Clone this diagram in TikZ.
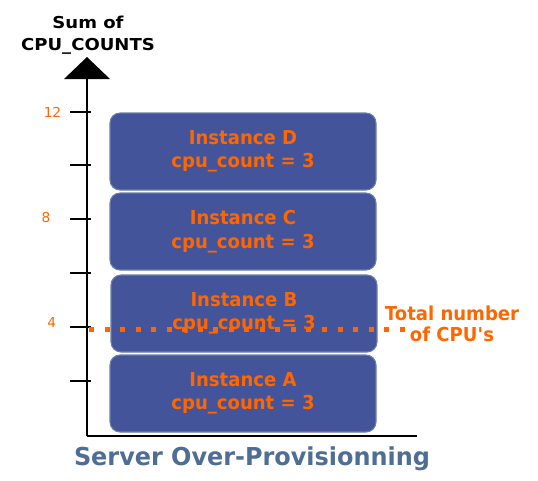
\documentclass[tikz,border=0pt]{standalone}
\usepackage{fontspec}
\setmainfont{DejaVu Sans}
\newfontfamily\narrowfont[FakeStretch=0.94]{DejaVu Sans}
\newfontfamily\titlefont[FakeStretch=0.97]{DejaVu Sans}
\newfontfamily\widefont[FakeStretch=1.1]{DejaVu Sans}
\definecolor{boxfill}{HTML}{44549A}
\definecolor{boxline}{HTML}{6A80A8}
\definecolor{orng}{HTML}{FF6600}
\definecolor{ttl}{HTML}{4F6E96}
\begin{document}
\begin{tikzpicture}[x=0.75pt,y=-0.75pt,
  inst/.style={draw=boxline,line width=0.8pt,fill=boxfill,rounded corners=7.5pt,
    minimum width=199.5pt,minimum height=57.75pt,inner sep=0pt,align=center,
    text=orng,font=\narrowfont\fontsize{14.4}{17.5}\selectfont\bfseries},
  ticklab/.style={text=orng,font=\fontsize{10.3}{12}\selectfont,anchor=center},
  axisline/.style={line width=1.5pt,black}]
\useasboundingbox (0,0) rectangle (538,480);
% boxes
\node[inst] (d) at (243,151.5) {Instance D\\cpu\_count = 3};
\node[inst] (c) at (243,231.5) {Instance C\\cpu\_count = 3};
\node[inst] (b) at (244,313.5) {Instance B\\cpu\_count = 3};
\node[inst] (a) at (243,393.5) {Instance A\\cpu\_count = 3};
% axes
\coordinate (o) at (87,436);
\coordinate (top) at (87,78);
\coordinate (xend) at (417,436);
\draw[axisline] (o) -- (top);
\draw[axisline] (o) -- (xend);
\fill[black] (64,79) -- (87,57) -- (110,79) -- cycle;
% ticks
\foreach \y in {112,165,219,273,327,381}
  \draw[line width=1.5pt] (70,\y) -- (91,\y);
\node[ticklab] (l12) at (52.5,112) {12};
\node[ticklab] (l8) at (46,217) {8};
\node[ticklab] (l4) at (51.7,322) {4};
% axis title
\node[align=center,font=\widefont\fontsize{12.3}{16.8}\selectfont\bfseries] (ytitle) at (88,35.2) {Sum of\\CPU\_COUNTS};
% dotted line
\coordinate (dl) at (89,329);
\coordinate (dr) at (408,329);
\draw[orng,line width=3.75pt,dash pattern=on 3.75pt off 7.9pt] (dl) -- (dr);
\node[align=center,text=orng,font=\narrowfont\fontsize{14.4}{15.5}\selectfont\bfseries] (tot) at (452,324) {Total number\\of CPU\textquotesingle s};
% title
\node[text=ttl,font=\titlefont\fontsize{18.5}{21}\selectfont\bfseries] (title) at (252,459) {Server Over-Provisionning};
\end{tikzpicture}
\end{document}
